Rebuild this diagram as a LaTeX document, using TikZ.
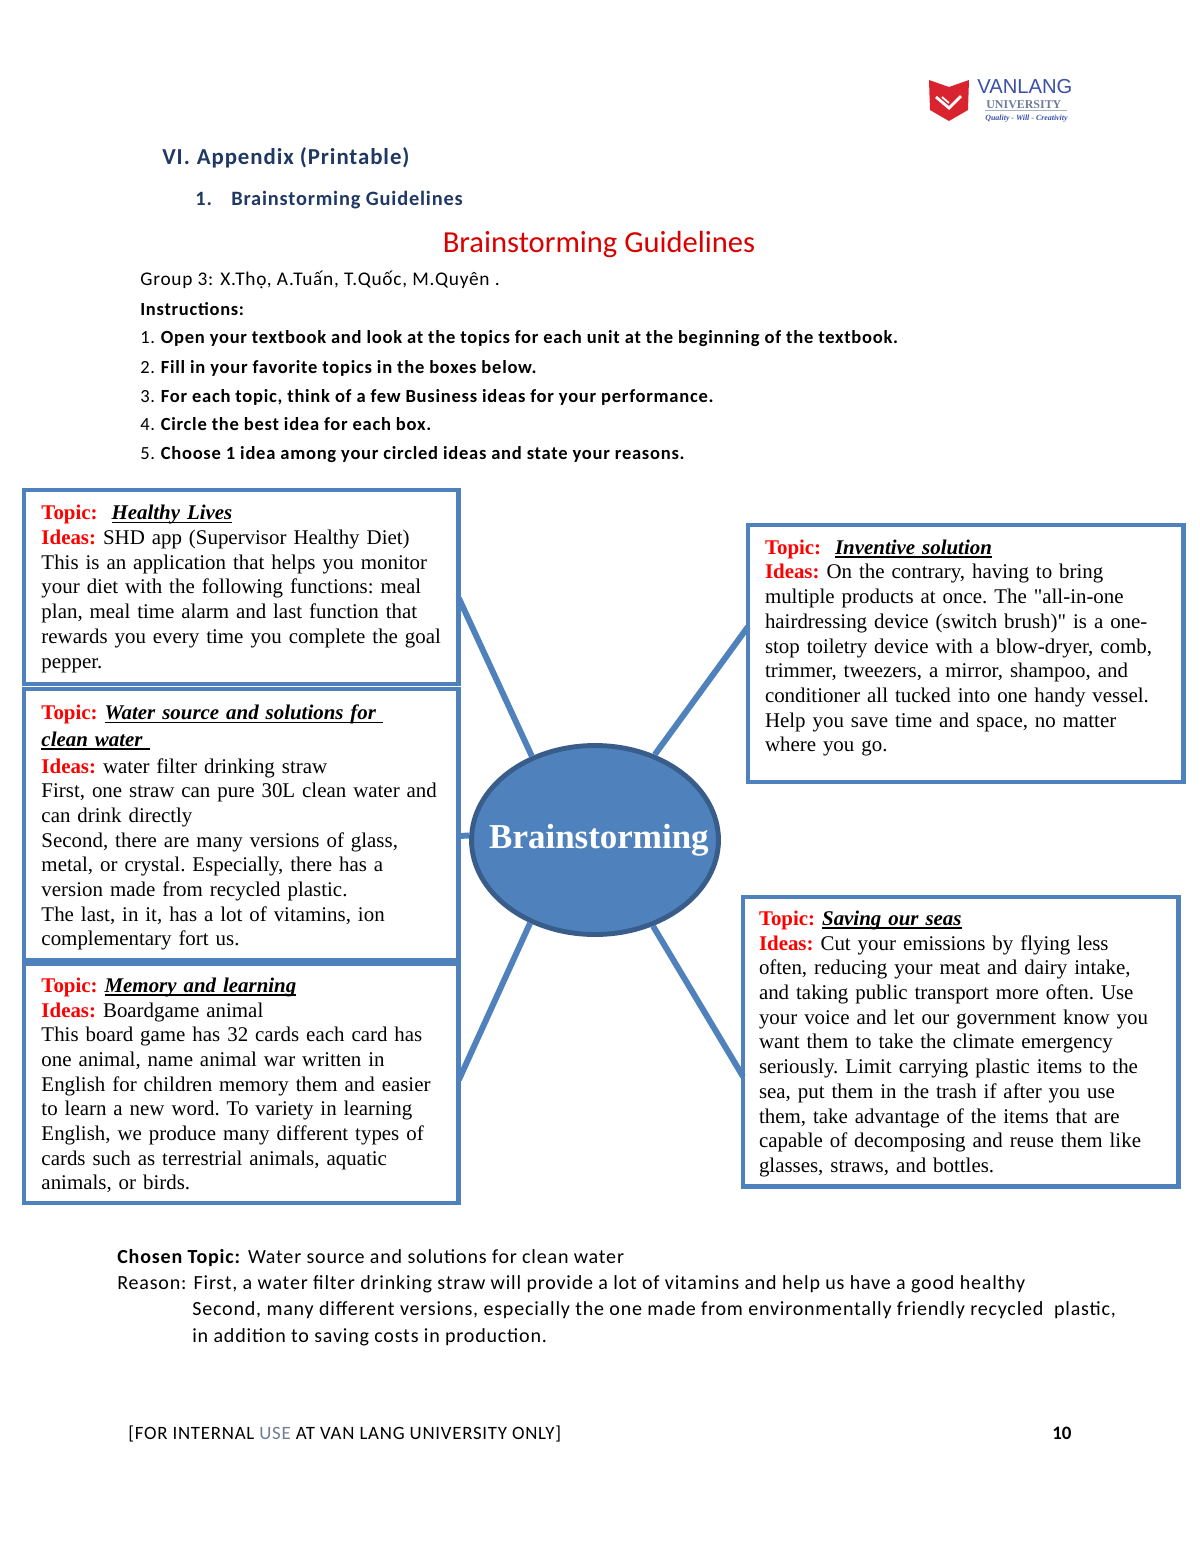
\documentclass[tikz,border=0pt]{standalone}
\usepackage{fontspec}
\setmainfont{Liberation Serif}[Ligatures=TeXOff]
\newfontfamily\calibri{Carlito}
\newfontfamily\calibriwide[LetterSpace=4]{Carlito}
\newfontfamily\arialfont{Liberation Sans}
\usetikzlibrary{shapes.geometric}
\definecolor{boxblue}{HTML}{4F81BD}
\definecolor{hubedge}{HTML}{385D8A}
\definecolor{navy}{HTML}{1F3864}
\definecolor{logored}{HTML}{D9232E}
\definecolor{logoblue}{HTML}{3A4FA8}
\definecolor{logogray}{HTML}{6F7C99}
\newcommand{\topicword}[1]{\rule{0pt}{10.5pt}\textcolor{red}{\textbf{#1}}}
\newcommand{\topicname}[1]{\leavevmode\setbox0=\hbox{\textbf{\textit{#1}}}\rlap{\rule[-2pt]{\wd0}{0.9pt}}\box0}
\tikzset{
	topicbox/.style={draw=boxblue, line width=2.8pt, fill=white, anchor=north west, outer sep=0pt, inner xsep=0pt, inner ysep=0pt, align=left, font=\frenchspacing\fontsize{11.9}{14.05}\selectfont},
	link/.style={draw=boxblue, line width=3.4pt},
	heading/.style={anchor=base west, inner sep=0pt, font=\calibriwide\fontsize{11.4}{13}\selectfont},
}
\begin{document}
\begin{tikzpicture}[x=0.02cm, y=-0.02cm]
	\useasboundingbox (0,0) rectangle (1200,1553);
	% logo
	\fill[logored] (929,80) -- (949,87) -- (969,80) -- (968,110) -- (949,121) -- (930,110) -- cycle;
	\draw[white, line width=1.6pt] (936,97) -- (949,108) -- (961,96);
	\draw[white, line width=1pt] (942,97) -- (949,103);
	\node[anchor=base west, inner sep=0pt, text=logoblue, font=\arialfont\fontsize{11.5}{13}\selectfont] (logoname) at (977,93) {VANLANG};
	\node[anchor=base west, inner sep=0pt, text=logogray, font=\fontsize{6.8}{8}\selectfont\bfseries] (logouni) at (986,108) {UNIVERSITY};
	\draw[logogray!60, line width=0.6pt] (985,110.5) -- (1067,110.5);
	\node[anchor=base west, inner sep=0pt, text=logoblue, font=\fontsize{4.5}{5}\selectfont\bfseries\itshape] (logotag) at (985,120) {Quality - Will - Creativity};
	% headings
	\node[heading, text=navy, font=\calibriwide\bfseries\fontsize{13}{15}\selectfont] (sec) at (162,164) {VI.\hspace{4pt}Appendix (Printable)};
	\node[heading, text=navy, font=\calibriwide\bfseries\fontsize{11.6}{14}\selectfont] (subsec) at (195,205) {1.\hspace{0.95em}Brainstorming Guidelines};
	\node[anchor=base, inner sep=0pt, text=red!85!black, font=\calibri\fontsize{17.4}{20}\selectfont] (title) at (599,252) {Brainstorming Guidelines};
	\node[heading, font=\calibriwide\fontsize{11}{13}\selectfont] (group) at (140,285) {Group 3: X.Thọ, A.Tuấn, T.Quốc, M.Quyên .};
	\node[heading, font=\calibriwide\bfseries\fontsize{10.5}{13}\selectfont] (instr) at (140,315) {Instructions:};
	\foreach \i/\y/\t in {1/343/{Open your textbook and look at the topics for each unit at the beginning of the textbook.},
		2/373/{Fill in your favorite topics in the boxes below.},
		3/402/{For each topic, think of a few Business ideas for your performance.},
		4/430/{Circle the best idea for each box.},
		5/459/{Choose 1 idea among your circled ideas and state your reasons.}} {
		\node[heading, font=\calibriwide\fontsize{10.55}{12}\selectfont] (step\i) at (140,\y) {\i.\ \textbf{\t}};
	}
	% topic boxes
	\node[topicbox, minimum width=8.7cm, minimum height=3.88cm, text width=8cm] (healthy) at (24,490) {%
		\topicword{Topic:}\ \ \topicname{Healthy Lives}\\
		\topicword{Ideas:} SHD app (Supervisor Healthy Diet)\\
		This is an application that helps you monitor\\
		your diet with the following functions: meal\\
		plan, meal time alarm and last function that\\
		rewards you every time you complete the goal\\
		pepper.};
	\node[topicbox, minimum width=8.7cm, minimum height=5.42cm, text width=8cm] (water) at (24,689) {%
		\rule{0pt}{12pt}\topicword{Topic:} \topicname{Water source and solutions for\ }\\[1.3pt]
		\topicname{clean water\ }\\[1.1pt]
		\topicword{Ideas:} water filter drinking straw\\
		First, one straw can pure 30L clean water and\\
		can drink directly\\
		Second, there are many versions of glass,\\
		metal, or crystal. Especially, there has a\\
		version made from recycled plastic.\\
		The last, in it, has a lot of vitamins, ion\\
		complementary fort us.};
	\node[topicbox, minimum width=8.7cm, minimum height=4.78cm, text width=8cm] (memory) at (24,964) {%
		\topicword{Topic:} \topicname{Memory and learning}\\
		\topicword{Ideas:} Boardgame animal\\
		This board game has 32 cards each card has\\
		one animal, name animal war written in\\
		English for children memory them and easier\\
		to learn a new word. To variety in learning\\
		English, we produce many different types of\\
		cards such as terrestrial animals, aquatic\\
		animals, or birds.};
	\node[topicbox, minimum width=8.72cm, minimum height=5.14cm, text width=8.04cm] (inventive) at (748,525) {%
		\topicword{Topic:}\ \ \topicname{Inventive solution}\\
		\topicword{Ideas:} On the contrary, having to bring\\
		multiple products at once. The "all-in-one\\
		hairdressing device (switch brush)" is a one-\\
		stop toiletry device with a blow-dryer, comb,\\
		trimmer, tweezers, a mirror, shampoo, and\\
		conditioner all tucked into one handy vessel.\\
		Help you save time and space, no matter\\
		where you go.\rule[-11pt]{0pt}{11pt}};
	\node[topicbox, minimum width=8.72cm, minimum height=5.8cm, text width=8.08cm] (seas) at (743,897) {%
		\topicword{Topic:} \topicname{Saving our seas}\\
		\topicword{Ideas:} Cut your emissions by flying less\\
		often, reducing your meat and dairy intake,\\
		and taking public transport more often. Use\\
		your voice and let our government know you\\
		want them to take the climate emergency\\
		seriously. Limit carrying plastic items to the\\
		sea, put them in the trash if after you use\\
		them, take advantage of the items that are\\
		capable of decomposing and reuse them like\\
		glasses, straws, and bottles.};
	% center
	\node[ellipse, draw=hubedge, line width=2.8pt, fill=boxblue, minimum width=4.94cm, minimum height=3.78cm, inner xsep=-0.7cm, inner ysep=0pt, text=white, font=\bfseries\fontsize{19.9}{22}\selectfont] (hub) at (595,840) {\hspace*{4.5pt}Brainstorming};
	\foreach \a/\b in {healthy.-3/hub.127, water.-3/hub.178, memory.1.5/hub.232, inventive.173.8/hub.55, seas.189.1/hub.-56} {
		\draw[link] (\a) -- (\b);
	}
	% bottom text
	\node[heading] (chosen) at (117,1263) {\textbf{Chosen Topic:} Water source and solutions for clean water};
	\node[heading] (reason) at (117,1289) {Reason: First, a water filter drinking straw will provide a lot of vitamins and help us have a good healthy};
	\node[heading] (second) at (192,1315) {Second, many different versions, especially the one made from environmentally friendly recycled\ \ plastic,};
	\node[heading] (third) at (192,1342) {in addition to saving costs in production.};
	% footer
	\node[heading, font=\calibriwide\fontsize{10.72}{12}\selectfont] (footer) at (128,1439) {[FOR INTERNAL \textcolor{logogray}{USE} AT VAN LANG UNIVERSITY ONLY]};
	\node[heading, font=\calibri\bfseries\fontsize{10.8}{12}\selectfont] (pageno) at (1052,1439) {10};
\end{tikzpicture}
\end{document}
